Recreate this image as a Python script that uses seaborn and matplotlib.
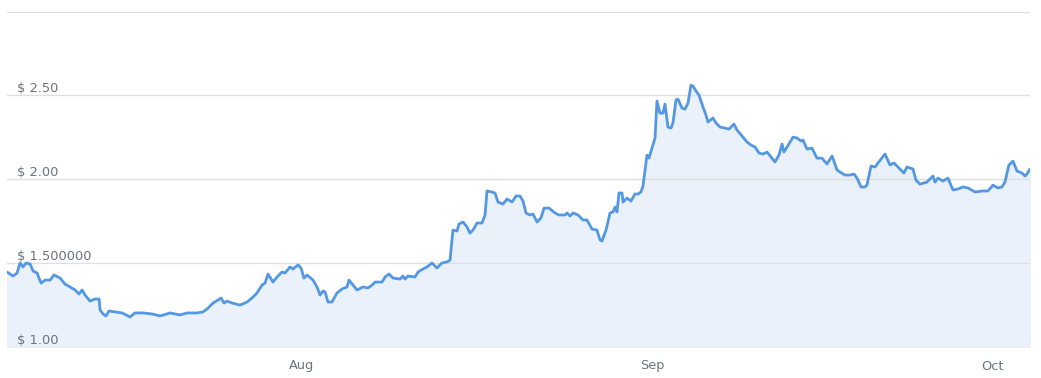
import pandas as pd
import numpy as np
import matplotlib
matplotlib.use("Agg")
import matplotlib.pyplot as plt
import matplotlib.dates as mdates
import seaborn as sns

# Days since 2024-07-01 and price (USD)
days = [5.07, 5.60, 5.96, 6.22, 6.48, 6.75, 7.10, 7.37, 7.72, 8.07, 8.43, 8.87, 9.22, 9.75,
        10.19, 10.63, 11.07, 11.42, 11.69, 11.95, 12.39, 12.83, 13.19, 13.28, 13.54, 13.80,
        14.07, 14.60, 15.22, 15.92, 16.36, 17.07, 17.86, 18.57, 19.45, 20.33, 20.95, 21.83,
        22.36, 22.80, 23.24, 23.68, 23.95, 24.21, 24.47, 24.92, 25.62, 26.24, 26.77, 27.12,
        27.56, 27.83, 28.09, 28.53, 28.88, 29.32, 29.59, 30.03, 30.29, 30.74, 31.00, 31.26,
        31.53, 32.06, 32.41, 32.68, 32.94, 33.12, 33.38, 33.73, 34.17, 34.62, 35.06, 35.23,
        35.59, 35.94, 36.47, 36.91, 37.26, 37.53, 38.14, 38.41, 38.76, 39.11, 39.73, 39.99,
        40.17, 40.44, 41.05, 41.32, 41.76, 42.11, 42.55, 42.99, 43.43, 43.87, 44.14, 44.40,
        44.76, 44.93, 45.29, 45.64, 45.90, 46.17, 46.52, 46.96, 47.23, 47.40, 47.84, 48.11,
        48.37, 48.81, 49.17, 49.61, 49.96, 50.31, 50.58, 50.84, 51.19, 51.46, 51.81, 52.16,
        52.43, 52.87, 53.40, 53.75, 54.28, 54.46, 54.72, 54.99, 55.43, 55.87, 56.22, 56.66,
        57.10, 57.37, 57.54, 57.90, 58.25, 58.51, 58.69, 58.87, 59.04, 59.31, 59.40, 59.75,
        60.10, 60.45, 60.72, 60.98, 61.16, 61.25, 61.51, 61.69, 62.04, 62.22, 62.39, 62.66,
        62.92, 63.10, 63.36, 63.63, 63.80, 64.07, 64.24, 64.60, 64.86, 65.13, 65.39, 65.57,
        65.83, 66.10, 66.45, 66.71, 66.89, 67.33, 67.60, 67.95, 68.39, 68.74, 69.18, 69.45,
        69.98, 70.33, 70.68, 71.04, 71.39, 71.74, 72.10, 72.45, 72.80, 73.15, 73.42, 73.59,
        73.86, 74.39, 74.74, 75.10, 75.27, 75.62, 76.06, 76.50, 76.94, 77.38, 77.83, 78.00,
        78.27, 78.53, 78.97, 79.42, 79.77, 80.03, 80.39, 80.74, 80.91, 81.27, 81.62, 81.88,
        82.50, 82.94, 83.29, 83.73, 84.17, 84.44, 84.97, 85.23, 85.59, 86.20, 86.73, 86.91,
        87.17, 87.61, 88.05, 88.50, 88.94, 89.38, 89.82, 90.44, 91.05, 91.58, 92.02, 92.46,
        92.82, 93.08, 93.43, 93.79, 94.14, 94.58, 94.85, 95.02, 95.29]

prices = [1.447, 1.423, 1.441, 1.501, 1.477, 1.501, 1.495, 1.453, 1.441, 1.381, 1.399, 1.399, 1.429, 1.411,
          1.375, 1.358, 1.340, 1.316, 1.340, 1.310, 1.274, 1.286, 1.286, 1.221, 1.197, 1.185,
          1.215, 1.209, 1.203, 1.179, 1.203, 1.203, 1.197, 1.185, 1.203, 1.191, 1.203, 1.203,
          1.209, 1.232, 1.262, 1.280, 1.292, 1.262, 1.274, 1.262, 1.250, 1.268, 1.298, 1.322,
          1.369, 1.381, 1.435, 1.387, 1.417, 1.447, 1.441, 1.477, 1.465, 1.489, 1.471, 1.411,
          1.429, 1.399, 1.358, 1.310, 1.334, 1.328, 1.268, 1.268, 1.322, 1.346, 1.358, 1.399,
          1.369, 1.340, 1.358, 1.352, 1.369, 1.387, 1.387, 1.417, 1.435, 1.411, 1.405, 1.423,
          1.405, 1.423, 1.417, 1.447, 1.465, 1.477, 1.501, 1.471, 1.501, 1.507, 1.518, 1.697,
          1.691, 1.733, 1.745, 1.715, 1.679, 1.697, 1.739, 1.739, 1.787, 1.930, 1.924, 1.918,
          1.864, 1.852, 1.882, 1.864, 1.900, 1.900, 1.870, 1.799, 1.787, 1.793, 1.745, 1.769,
          1.828, 1.828, 1.799, 1.787, 1.787, 1.799, 1.781, 1.799, 1.787, 1.757, 1.757, 1.703,
          1.697, 1.638, 1.632, 1.697, 1.799, 1.805, 1.834, 1.805, 1.918, 1.918, 1.864, 1.888,
          1.870, 1.912, 1.912, 1.924, 1.959, 2.007, 2.144, 2.126, 2.204, 2.246, 2.466, 2.394,
          2.394, 2.448, 2.311, 2.305, 2.335, 2.472, 2.478, 2.424, 2.418, 2.454, 2.561, 2.555,
          2.526, 2.502, 2.430, 2.383, 2.341, 2.365, 2.335, 2.311, 2.305, 2.299, 2.329, 2.293,
          2.251, 2.222, 2.204, 2.192, 2.156, 2.150, 2.162, 2.132, 2.103, 2.144, 2.210, 2.162,
          2.192, 2.251, 2.246, 2.228, 2.234, 2.180, 2.186, 2.126, 2.126, 2.091, 2.138, 2.108,
          2.055, 2.043, 2.025, 2.025, 2.031, 2.007, 1.954, 1.954, 1.965, 2.079, 2.073, 2.097,
          2.150, 2.085, 2.097, 2.067, 2.037, 2.073, 2.061, 1.995, 1.971, 1.983, 2.019, 1.983,
          2.007, 1.989, 2.007, 1.936, 1.942, 1.954, 1.948, 1.924, 1.930, 1.930, 1.965, 1.948,
          1.954, 1.983, 2.085, 2.108, 2.049, 2.037, 2.019, 2.031, 2.061]

y_ticks = [1.0, 1.5, 2.0, 2.5, 3.0]
y_tick_labels = ["$ 1.00", "$ 1.500000", "$ 2.00", "$ 2.50", ""]

start = pd.Timestamp("2024-07-01")
df = pd.DataFrame({
    "date": start + pd.to_timedelta(days, unit="D"),
    "price": prices,
})

sns.set_style("white")
plt.rcParams["font.family"] = ["DejaVu Sans"]

fig = plt.figure(figsize=(10.41, 3.78), dpi=100)
ax = fig.add_axes([7 / 1041, 31 / 378, 1023 / 1041, 335.5 / 378])

line_color = "#5498e4"
sns.lineplot(data=df, x="date", y="price", ax=ax, color=line_color, linewidth=2.0)
ax.fill_between(df["date"], df["price"], 1.0, color="#eaf1fb", zorder=0)

ax.set_xlim(df["date"].iloc[0], df["date"].iloc[-1])
ax.set_ylim(1.0, 3.0)
ax.set_xlabel("")
ax.set_ylabel("")

for s in ax.spines.values():
    s.set_visible(False)

text_color = "#6b7380"
ax.set_yticks(y_ticks)
ax.set_yticklabels(y_tick_labels)
ax.grid(axis="y", color="#dfdfdf", linewidth=1.0, zorder=-1)
ax.set_axisbelow(True)
ax.tick_params(axis="y", length=0, pad=-7.5, labelsize=9.4, labelcolor=text_color)
for lbl in ax.get_yticklabels():
    lbl.set_horizontalalignment("left")
    lbl.set_verticalalignment("bottom")

ax.xaxis.set_major_locator(mdates.MonthLocator())
ax.xaxis.set_major_formatter(mdates.DateFormatter("%b"))
ax.tick_params(axis="x", length=0, pad=9, labelsize=9.3, labelcolor=text_color)

fig.savefig("out.png", dpi=100)
